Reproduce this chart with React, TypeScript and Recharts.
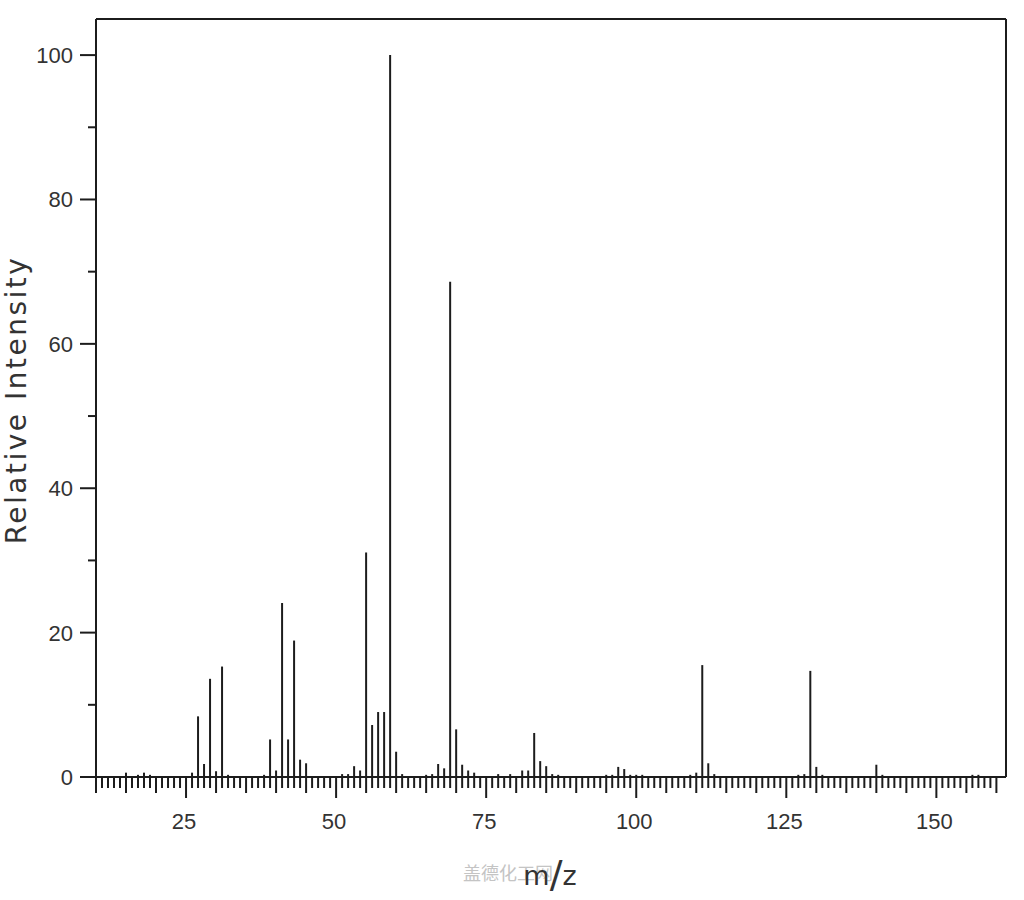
import { ComposedChart, Bar, XAxis, YAxis, ReferenceLine, Label } from 'recharts';

// m/z values and relative intensities
const mzValues = [
  15, 17, 18, 19, 26, 27, 28, 29, 30, 31, 32, 38, 39, 40, 41, 42, 43, 44, 45,
  51, 52, 53, 54, 55, 56, 57, 58, 59, 60, 61, 65, 66, 67, 68, 69, 70, 71, 72, 73,
  77, 79, 81, 82, 83, 84, 85, 86, 87, 95, 96, 97, 98, 99, 100, 101,
  109, 110, 111, 112, 113, 127, 128, 129, 130, 131, 140, 141, 156, 157,
];
const intensities = [
  0.6, 0.3, 0.6, 0.3, 0.6, 8.4, 1.8, 13.6, 0.8, 15.3, 0.3, 0.3, 5.2, 0.9, 24.1, 5.2, 18.9, 2.4, 1.9,
  0.4, 0.4, 1.5, 0.9, 31.1, 7.2, 9.0, 9.0, 100, 3.5, 0.4, 0.3, 0.4, 1.8, 1.2, 68.6, 6.6, 1.7, 0.9, 0.6,
  0.4, 0.4, 0.9, 0.9, 6.1, 2.2, 1.5, 0.4, 0.3, 0.3, 0.3, 1.4, 1.1, 0.3, 0.3, 0.3,
  0.3, 0.6, 15.5, 1.9, 0.4, 0.3, 0.4, 14.7, 1.4, 0.3, 1.7, 0.3, 0.3, 0.3,
];

const xLabelTicks = [25, 50, 75, 100, 125, 150];
const xTicks = Array.from({ length: 151 }, (_, i) => i + 10);
const yLabelTicks = [0, 20, 40, 60, 80, 100];
const yTicks = [0, 10, 20, 30, 40, 50, 60, 70, 80, 90, 100];

const X_DOMAIN: [number, number] = [10, 161.6];
const Y_DOMAIN: [number, number] = [0, 105];

const PLOT_LEFT = 96;
const PLOT_BOTTOM = 777;
const INK = '#1c1c1c';
const TEXT = '#333';
const FONT = '"Liberation Sans", Arial, sans-serif';

const data = mzValues.map((mz, i) => ({ mz, intensity: intensities[i] }));

const XTick = ({ x, payload }: any) => {
  const v = payload.value;
  const len = v % 25 === 0 ? 21 : v % 5 === 0 ? 16 : 11;
  return (
    <g>
      <line x1={x} x2={x} y1={PLOT_BOTTOM} y2={PLOT_BOTTOM + len} stroke={INK} strokeWidth={2} />
      {xLabelTicks.includes(v) && (
        <text x={x - 2} y={829} textAnchor="middle" fontSize={22} fontFamily={FONT} fill={TEXT}>
          {v}
        </text>
      )}
    </g>
  );
};

const YTick = ({ y, payload }: any) => {
  const v = payload.value;
  const major = yLabelTicks.includes(v);
  return (
    <g>
      <line x1={PLOT_LEFT - (major ? 16 : 8)} x2={PLOT_LEFT} y1={y} y2={y} stroke={INK} strokeWidth={2} />
      {major && (
        <text x={73} y={y + 8} textAnchor="end" fontSize={22} fontFamily={FONT} fill={TEXT}>
          {v}
        </text>
      )}
    </g>
  );
};

const YTitle = () => (
  <text
    x={0}
    y={0}
    transform="translate(26, 400) rotate(-90)"
    textAnchor="middle"
    fontSize={28}
    letterSpacing={2.5}
    fontFamily={'"DejaVu Sans", sans-serif'}
    fill={TEXT}
  >
    Relative Intensity
  </text>
);

const XTitle = () => (
  <g>
    <text x={508} y={880} textAnchor="middle" fontSize={18} fontFamily={'"Noto Sans CJK SC", sans-serif'} fill="#c4c4c4">
      盖德化工网
    </text>
    <text x={550} y={885} textAnchor="middle" fontSize={27} fontFamily={'"DejaVu Sans", sans-serif'} fill={TEXT}>
      m<tspan fontSize={38} dy={2}>/</tspan><tspan dy={-2}>z</tspan>
    </text>
  </g>
);

export default function App() {
  return (
    <div style={{ position: 'absolute', left: 0, top: 0, width: 1024, height: 900, background: '#fff' }}>
      <ComposedChart
        width={1024}
        height={900}
        data={data}
        margin={{ top: 19, right: 18, left: 20, bottom: 83 }}
      >
        <XAxis
          dataKey="mz"
          type="number"
          domain={X_DOMAIN}
          ticks={xTicks}
          interval={0}
          allowDataOverflow
          height={40}
          tickLine={false}
          axisLine={{ stroke: INK, strokeWidth: 2 }}
          tick={<XTick />}
        >
          <Label content={<XTitle />} />
        </XAxis>
        <YAxis
          type="number"
          domain={Y_DOMAIN}
          ticks={yTicks}
          interval={0}
          allowDataOverflow
          width={76}
          tickLine={false}
          axisLine={{ stroke: INK, strokeWidth: 2 }}
          tick={<YTick />}
        >
          <Label content={<YTitle />} />
        </YAxis>
        <ReferenceLine y={105} stroke={INK} strokeWidth={2} ifOverflow="extendDomain" />
        <ReferenceLine x={161.6} stroke={INK} strokeWidth={2} ifOverflow="extendDomain" />
        <Bar dataKey="intensity" barSize={2} fill={INK} isAnimationActive={false} />
      </ComposedChart>
    </div>
  );
}
